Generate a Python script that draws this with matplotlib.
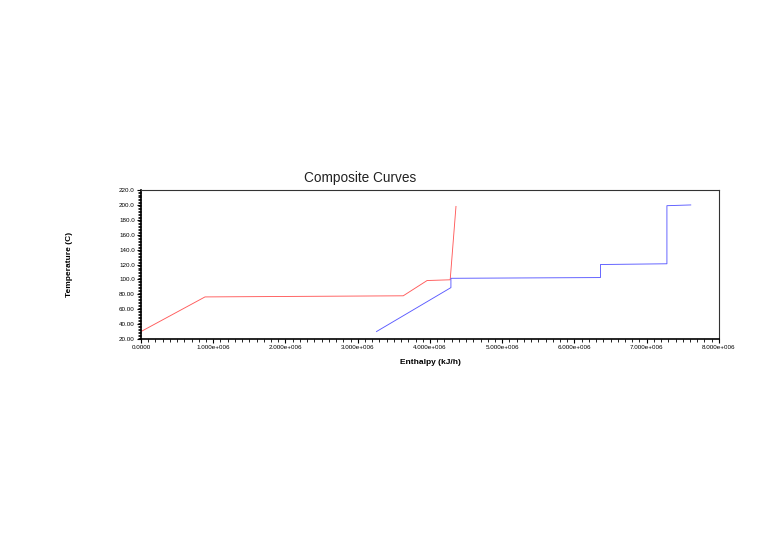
import matplotlib
matplotlib.use("Agg")
import matplotlib.pyplot as plt
from matplotlib.ticker import MultipleLocator, FuncFormatter

# Hot composite curve (red)
hot_h = [0.0, 0.886e6, 3.63e6, 3.96e6, 4.28e6, 4.36e6]
hot_t = [30.0, 76.5, 78.0, 98.5, 99.5, 198.0]

# Cold composite curve (blue)
cold_h = [3.26e6, 4.29e6, 4.29e6, 6.36e6, 6.36e6, 7.28e6, 7.28e6, 7.61e6]
cold_t = [30.0, 89.0, 101.5, 102.5, 120.0, 121.0, 199.0, 200.0]

plt.rcParams['font.family'] = ['Liberation Sans', 'DejaVu Sans']


def x_fmt(v, pos):
    if v == 0:
        return '0.0000'
    s = '%.3e' % v
    mant, exp = s.split('e')
    return '%se%s%03d' % (mant, exp[0], abs(int(exp)))


def y_fmt(v, pos):
    if v >= 100:
        return '%.1f' % v
    return '%.2f' % v


def main():
    fig = plt.figure(figsize=(7.68, 5.43), dpi=100)
    ax = fig.add_axes([0.1836, 0.3757, 0.7525, 0.2743])

    ax.plot(hot_h, hot_t, color='#ff5a5a', lw=0.65)
    ax.plot(cold_h, cold_t, color='#5a5aff', lw=0.65)

    ax.set_xlim(0, 8e6)
    ax.set_ylim(20, 220)
    ax.xaxis.set_major_locator(MultipleLocator(1e6))
    ax.xaxis.set_minor_locator(MultipleLocator(1e5))
    ax.yaxis.set_major_locator(MultipleLocator(20))
    ax.yaxis.set_minor_locator(MultipleLocator(2))
    ax.xaxis.set_major_formatter(FuncFormatter(x_fmt))
    ax.yaxis.set_major_formatter(FuncFormatter(y_fmt))

    ax.tick_params(which='major', labelsize=4.5, length=3, width=0.8, pad=1.5)
    ax.tick_params(which='minor', length=2, width=0.6)
    for side in ['left', 'bottom']:
        ax.spines[side].set_linewidth(1.2)
    for side in ['top', 'right']:
        ax.spines[side].set_linewidth(0.8)
        ax.spines[side].set_color('#333333')

    ax.set_xlabel('Enthalpy (kJ/h)', fontsize=6, fontweight='bold', labelpad=6)
    ax.set_ylabel('Temperature (C)', fontsize=6, fontweight='bold', labelpad=33)
    fig.text(0.469, 0.660, 'Composite Curves', fontsize=9.8, ha='center',
             va='bottom', color='#222222')

    fig.savefig('out.png', dpi=100)


if __name__ == '__main__':
    main()
